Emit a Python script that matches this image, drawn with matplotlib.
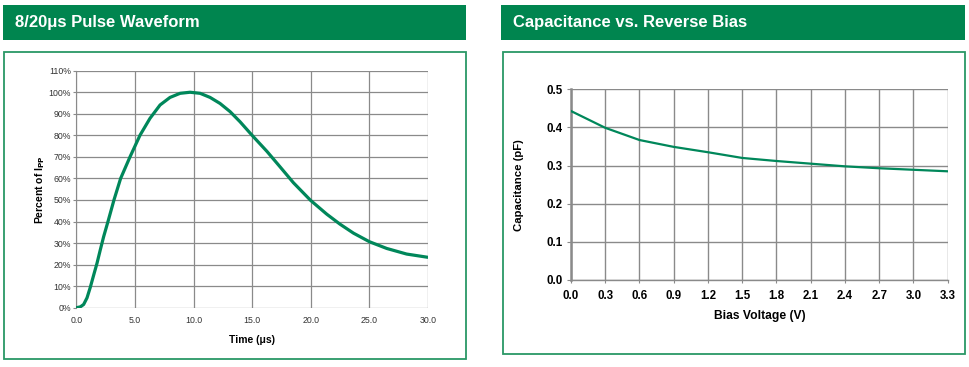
"""Recreate: 8/20us pulse waveform + capacitance vs reverse bias panels."""

import numpy as np
import matplotlib
matplotlib.use("Agg")
import matplotlib.pyplot as plt
from matplotlib.patches import Rectangle
from matplotlib.ticker import FuncFormatter

plt.rcParams["font.family"] = ["Liberation Sans", "DejaVu Sans"]

# ─── Data ───
pulse_t = [0.0, 0.33, 0.61, 0.9, 1.18, 1.47, 1.75, 2.03, 2.32, 2.69, 3.2, 3.77,
           4.57, 5.43, 6.28, 7.14, 7.99, 8.85, 9.7, 10.56, 11.41, 12.26, 13.12,
           13.97, 15.0, 16.26, 17.4, 18.53, 20.0, 21.38, 22.5, 23.66, 25.03,
           26.5, 28.2, 30.0]
pulse_pct = [0, 0.4, 1.5, 4.6, 9.5, 15.2, 20.6, 26.8, 33, 40, 50, 60,
             70, 80.1, 87.9, 94.1, 97.6, 99.5, 100, 99.5, 97.6, 94.8, 91,
             86.3, 80, 72.6, 65.3, 58.0, 49.8, 43.4, 38.8, 34.6, 30.6,
             27.5, 24.9, 23.4]

bias_v = [0.0, 0.3, 0.6, 0.9, 1.2, 1.5, 1.8, 2.1, 2.4, 2.7, 3.0, 3.3]
cap_pf = [0.443, 0.399, 0.367, 0.349, 0.335, 0.320, 0.312, 0.305, 0.298, 0.293, 0.289, 0.285]

pulse_xticks = [0, 5, 10, 15, 20, 25, 30]
pulse_yticks = list(range(0, 111, 10))
bias_xticks = bias_v
cap_yticks = [0.0, 0.1, 0.2, 0.3, 0.4, 0.5]

GREEN = "#00854F"
LINE = "#00875A"
BORDER = "#2A9766"
GRID = "#8A8A8A"
W, H = 970, 367

fig = plt.figure(figsize=(W / 100, H / 100), dpi=100)


def px_rect(x0, y0, x1, y1, **kw):
    # rectangle given in pixel coords (top-left origin)
    r = Rectangle((x0 / W, 1 - y1 / H), (x1 - x0) / W, (y1 - y0) / H,
                  transform=fig.transFigure, **kw)
    fig.patches.append(r)


def px_axes(x0, y0, x1, y1):
    return fig.add_axes([x0 / W, 1 - y1 / H, (x1 - x0) / W, (y1 - y0) / H])


# headers and frames
px_rect(3, 5, 466, 39.5, facecolor=GREEN, edgecolor="none")
px_rect(501, 5, 965, 39.5, facecolor=GREEN, edgecolor="none")
px_rect(4.5, 52, 466.5, 359, facecolor="none", edgecolor=BORDER, lw=1.3)
px_rect(502.5, 52, 965, 354, facecolor="none", edgecolor=BORDER, lw=1.3)
fig.text(15 / W, 1 - 23 / H, "8/20μs Pulse Waveform", color="white",
         fontsize=12, fontweight="bold", va="center", ha="left")
fig.text(513 / W, 1 - 23 / H, "Capacitance vs. Reverse Bias", color="white",
         fontsize=12, fontweight="bold", va="center", ha="left")

# ─── Left: pulse waveform ───
ax1 = px_axes(76.5, 70.7, 427.7, 307.7)
ax1.plot(pulse_t, pulse_pct, color=LINE, lw=2.3, solid_capstyle="round",
         solid_joinstyle="round", zorder=3)
ax1.set_xlim(0, 30)
ax1.set_ylim(0, 110)
ax1.set_xticks(pulse_xticks)
ax1.set_yticks(pulse_yticks)
ax1.xaxis.set_major_formatter(FuncFormatter(lambda v, p: f"{v:.1f}"))
ax1.yaxis.set_major_formatter(FuncFormatter(lambda v, p: f"{v:.0f}%"))
ax1.grid(True, color=GRID, lw=0.9)
ax1.set_axisbelow(True)
for s in ax1.spines.values():
    s.set_visible(False)
ax1.spines["left"].set_visible(True)
ax1.spines["left"].set_color(GRID)
ax1.tick_params(axis="both", labelsize=6.3, colors="#333333", length=0, pad=6)
ax1.tick_params(axis="y", length=2, color=GRID, pad=2)
ax1.set_xlabel("Time (μs)", fontsize=7.5, fontweight="bold", labelpad=7)
ax1.set_ylabel(r"Percent of I$_{\mathbf{PP}}$", fontsize=7.5, fontweight="bold", labelpad=1)

# ─── Right: capacitance vs bias ───
ax2 = px_axes(571, 89.3, 947.7, 280)
ax2.plot(bias_v, cap_pf, color=LINE, lw=1.6, zorder=3)
ax2.set_xlim(0, 3.3)
ax2.set_ylim(0, 0.5)
ax2.set_xticks(bias_xticks)
ax2.set_yticks(cap_yticks)
ax2.xaxis.set_major_formatter(FuncFormatter(lambda v, p: f"{v:.1f}"))
ax2.yaxis.set_major_formatter(FuncFormatter(lambda v, p: f"{v:.1f}"))
ax2.grid(True, color=GRID, lw=1.0)
ax2.set_axisbelow(True)
for s in ax2.spines.values():
    s.set_visible(False)
ax2.spines["left"].set_visible(True)
ax2.spines["left"].set_color(GRID)
ax2.spines["left"].set_linewidth(1.8)
ax2.spines["bottom"].set_visible(True)
ax2.spines["bottom"].set_color(GRID)
ax2.spines["bottom"].set_linewidth(1.0)
ax2.tick_params(axis="both", labelsize=8.3, colors=GRID, labelcolor="black", length=2)
for lab in ax2.get_xticklabels() + ax2.get_yticklabels():
    lab.set_fontweight("bold")
ax2.tick_params(axis="y", length=3, pad=3)
ax2.tick_params(axis="x", pad=5)
ax2.set_xlabel("Bias Voltage (V)", fontsize=8.7, fontweight="bold", labelpad=6)
ax2.set_ylabel("Capacitance (pF)", fontsize=8.2, fontweight="bold", labelpad=16)

fig.savefig("out.png", dpi=100)
